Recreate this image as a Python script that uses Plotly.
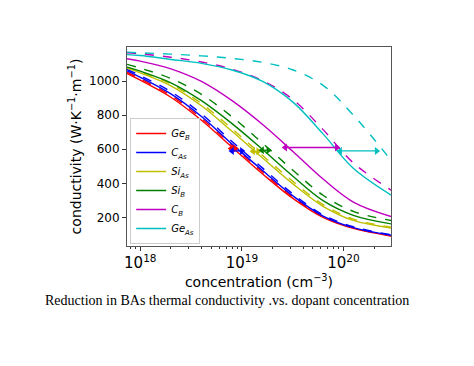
import plotly.graph_objects as go

# ---- data ----
concentration = [7.4e17, 1e18, 2e18, 4e18, 8e18, 1.6e19, 3.2e19, 6.3e19, 1.25e20, 2.94e20]

ge_b_solid  = [1045, 1005, 905, 770, 612, 455, 310, 200, 135, 90]
ge_b_dash   = [1052, 1013, 915, 781, 623, 466, 318, 205, 138, 92]
c_as_solid  = [1060, 1022, 925, 792, 630, 475, 325, 208, 140, 95]
c_as_dash   = [1068, 1032, 938, 807, 645, 489, 336, 215, 145, 98]
si_as_solid = [1076, 1048, 972, 855, 705, 548, 395, 265, 182, 138]
si_as_dash  = [1080, 1054, 982, 868, 720, 563, 410, 275, 190, 143]
si_b_solid  = [1082, 1058, 990, 885, 750, 598, 440, 298, 212, 162]
si_b_dash   = [1098, 1076, 1015, 922, 790, 635, 475, 330, 235, 182]
c_b_solid   = [1131, 1117, 1072, 998, 885, 745, 585, 425, 290, 205]
c_b_dash    = [1166, 1160, 1140, 1112, 1070, 1003, 890, 715, 520, 360]
ge_as_solid = [1155, 1150, 1127, 1104, 1065, 998, 875, 690, 488, 331]
ge_as_dash  = [1170, 1166, 1158, 1148, 1133, 1110, 1065, 975, 800, 535]

labels = ["<i>Ge</i><sub><i>B</i></sub>", "<i>C</i><sub><i>As</i></sub>",
          "<i>Si</i><sub><i>As</i></sub>", "<i>Si</i><sub><i>B</i></sub>",
          "<i>C</i><sub><i>B</i></sub>", "<i>Ge</i><sub><i>As</i></sub>"]
colors = ["#ff0000", "#0000ff", "#bfbf00", "#008000", "#bf00bf", "#00bfbf"]
solid_series = [ge_b_solid, c_as_solid, si_as_solid, si_b_solid, c_b_solid, ge_as_solid]
dash_series = [ge_b_dash, c_as_dash, si_as_dash, si_b_dash, c_b_dash, ge_as_dash]

# arrows: start / end concentration and conductivity level
arrow_lo = [7.85e18, 8.0e18, 1.29e19, 1.58e19, 2.67e19, 9.27e19]
arrow_hi = [8.6e18, 1.0e19, 1.45e19, 1.82e19, 8.6e19, 2.12e20]
arrow_k  = [604, 590, 588, 594, 610, 590]

fig = go.Figure()

for i in range(6):
    fig.add_trace(go.Scatter(x=concentration, y=dash_series[i], mode="lines",
                             line=dict(color=colors[i], width=1.4, dash="dash", shape="spline"),
                             showlegend=False, hoverinfo="skip"))
for i in range(6):
    fig.add_trace(go.Scatter(x=concentration, y=solid_series[i], mode="lines",
                             line=dict(color=colors[i], width=1.4, shape="spline"),
                             name=labels[i]))
for i in range(6):
    fig.add_trace(go.Scatter(x=[arrow_lo[i], arrow_hi[i]], y=[arrow_k[i], arrow_k[i]],
                             mode="lines+markers",
                             line=dict(color=colors[i], width=1.3),
                             marker=dict(symbol=["triangle-left", "triangle-right"], size=7,
                                         color=colors[i]),
                             showlegend=False, hoverinfo="skip"))

axis_font = dict(family="DejaVu Sans", size=12, color="black")
fig.update_layout(
    width=474, height=366,
    margin=dict(l=119, r=91, t=39, b=128),
    paper_bgcolor="white", plot_bgcolor="white",
    font=dict(family="DejaVu Sans", size=12, color="black"),
    showlegend=True,
    legend=dict(x=0.012, y=0.01, xanchor="left", yanchor="bottom",
                bgcolor="rgba(255,255,255,0.85)", bordercolor="#cccccc", borderwidth=1,
                font=dict(family="DejaVu Sans", size=10), tracegroupgap=0, itemwidth=30),
    xaxis=dict(type="log", range=[17.869, 20.468], dtick=1, exponentformat="power",
               showgrid=False, zeroline=False, showline=True, mirror=True,
               linecolor="#555555", linewidth=1, ticks="outside", ticklen=4,
               tickcolor="#333333", tickfont=axis_font,
               minor=dict(ticks="outside", ticklen=2, tickcolor="#333333", showgrid=False),
               title=dict(text="concentration (cm<sup>\u22123</sup>)",
                          font=dict(family="DejaVu Sans", size=14), standoff=0)),
    yaxis=dict(range=[32, 1200], tickvals=[200, 400, 600, 800, 1000],
               showgrid=False, zeroline=False, showline=True, mirror=True,
               linecolor="#555555", linewidth=1, ticks="outside", ticklen=4,
               tickcolor="#333333", tickfont=axis_font,
               title=dict(text="conductivity (W\u00b7K<sup>\u22121</sup>\u00b7m<sup>\u22121</sup>)",
                          font=dict(family="DejaVu Sans", size=14), standoff=4)),
    annotations=[dict(text="Reduction in BAs thermal conductivity .vs. dopant concentration",
                      xref="paper", yref="paper", x=0.377, y=-0.276,
                      xanchor="center", yanchor="middle", showarrow=False,
                      font=dict(family="Liberation Serif", size=14, color="black"))],
)

fig.write_html("out.html")
